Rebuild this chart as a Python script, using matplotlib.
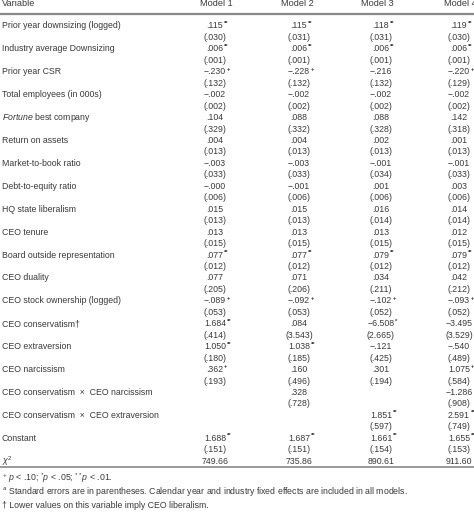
import matplotlib
matplotlib.use('Agg')
import matplotlib.pyplot as plt

plt.rcParams['font.family'] = ['Liberation Sans', 'DejaVu Sans']
plt.rcParams['mathtext.fontset'] = 'custom'
plt.rcParams['mathtext.rm'] = 'Liberation Sans'
plt.rcParams['mathtext.it'] = 'Liberation Sans:italic'

variables = ["Prior year downsizing (logged)", "Industry average Downsizing", "Prior year CSR",
             "Total employees (in 000s)", "$\\it{Fortune}$ best company", "Return on assets",
             "Market-to-book ratio", "Debt-to-equity ratio", "HQ state liberalism", "CEO tenure",
             "Board outside representation", "CEO duality", "CEO stock ownership (logged)",
             "CEO conservatism\u2020", "CEO extraversion", "CEO narcissism",
             "CEO conservatism  \u00d7  CEO narcissism", "CEO conservatism  \u00d7  CEO extraversion",
             "Constant"]
models = ["Model 1", "Model 2", "Model 3", "Model 4"]

coef = [
    [".115**", ".115**", ".118**", ".119**"],
    [".006**", ".006**", ".006**", ".006**"],
    ["\u2212.230+", "\u2212.228+", "\u2212.216", "\u2212.220+"],
    ["\u2212.002", "\u2212.002", "\u2212.002", "\u2212.002"],
    [".104", ".088", ".088", ".142"],
    [".004", ".004", ".002", ".001"],
    ["\u2212.003", "\u2212.003", "\u2212.001", "\u2212.001"],
    ["\u2212.000", "\u2212.001", ".001", ".003"],
    [".015", ".015", ".016", ".014"],
    [".013", ".013", ".013", ".012"],
    [".077**", ".077**", ".079**", ".079**"],
    [".077", ".071", ".034", ".042"],
    ["\u2212.089+", "\u2212.092+", "\u2212.102+", "\u2212.093+"],
    ["1.684**", ".084", "\u22126.508*", "\u22123.495"],
    ["1.050**", "1.038**", "\u2212.121", "\u2212.540"],
    [".362+", ".160", ".301", "1.075+"],
    ["", ".328", "", "\u22121.286"],
    ["", "", "1.851**", "2.591**"],
    ["1.688**", "1.687**", "1.661**", "1.655**"],
]
se = [
    ["(.030)", "(.031)", "(.031)", "(.030)"],
    ["(.001)", "(.001)", "(.001)", "(.001)"],
    ["(.132)", "(.132)", "(.132)", "(.129)"],
    ["(.002)", "(.002)", "(.002)", "(.002)"],
    ["(.329)", "(.332)", "(.328)", "(.318)"],
    ["(.013)", "(.013)", "(.013)", "(.013)"],
    ["(.033)", "(.033)", "(.034)", "(.033)"],
    ["(.006)", "(.006)", "(.006)", "(.006)"],
    ["(.013)", "(.013)", "(.014)", "(.014)"],
    ["(.015)", "(.015)", "(.015)", "(.015)"],
    ["(.012)", "(.012)", "(.012)", "(.012)"],
    ["(.205)", "(.206)", "(.211)", "(.212)"],
    ["(.053)", "(.053)", "(.052)", "(.052)"],
    ["(.414)", "(3.543)", "(2.665)", "(3.529)"],
    ["(.180)", "(.185)", "(.425)", "(.489)"],
    ["(.193)", "(.496)", "(.194)", "(.584)"],
    ["", "(.728)", "", "(.908)"],
    ["", "", "(.597)", "(.749)"],
    ["(.151)", "(.151)", "(.154)", "(.153)"],
]
chi2 = ["749.66", "735.86", "890.61", "911.60"]
footnotes = ["$^{+}$ $p$ < .10; $^{*}$$p$ < .05; $^{**}$$p$ < .01.",
             "$^{a}$ Standard errors are in parentheses. Calendar year and industry fixed effects are included in all models.",
             "\u2020 Lower values on this variable imply CEO liberalism."]

W, H = 474, 518
fig = plt.figure(figsize=(W / 100, H / 100), dpi=100)
ax = fig.add_axes([0, 0, 1, 1])
ax.set_xlim(0, W)
ax.set_ylim(H, 0)
ax.axis('off')
renderer = fig.canvas.get_renderer()

col = '#3a3a3a'
fs = 6.3
center = [215, 299, 381, 459]
head_x = [216, 297, 377, 460]

ax.text(2, 4, "Variable", fontsize=fs + 0.3, color=col, va='center')
for x, m in zip(head_x, models):
    ax.text(x, 4, m, fontsize=fs + 0.3, color=col, va='center', ha='center')
ax.plot([0, W], [13.5, 13.5], color='#888888', lw=1.6)


def cell(x, y, s):
    num = s.rstrip('*+')
    mark = s[len(num):]
    t = ax.text(x, y, num, fontsize=fs, color=col, va='center', ha='center')
    if mark:
        bb = t.get_window_extent(renderer)
        xr = bb.x1  # display px == data px here
        ax.text(xr + 0.5, y - 2.5, mark, fontsize=4.2, color=col,
                va='center', ha='left', fontweight='bold')


step = 22.9
for i, v in enumerate(variables):
    y = 26 + i * step
    ax.text(2, y, v, fontsize=fs, color=col, va='center')
    for j in range(4):
        if coef[i][j]:
            cell(center[j], y, coef[i][j])
        if se[i][j]:
            cell(center[j], y + 11.5, se[i][j])

y = 26 + len(variables) * step
ax.text(2, y, "$\\chi^2$", fontsize=fs, color=col, va='center')
for j in range(4):
    ax.text(center[j], y, chi2[j], fontsize=fs, color=col, va='center', ha='center')

ax.plot([0, W], [467, 467], color='#888888', lw=1.2)
for k, t in enumerate(footnotes):
    ax.text(2, 478 + k * 14, t, fontsize=fs, color=col, va='center')

fig.savefig('out.png', dpi=100)
